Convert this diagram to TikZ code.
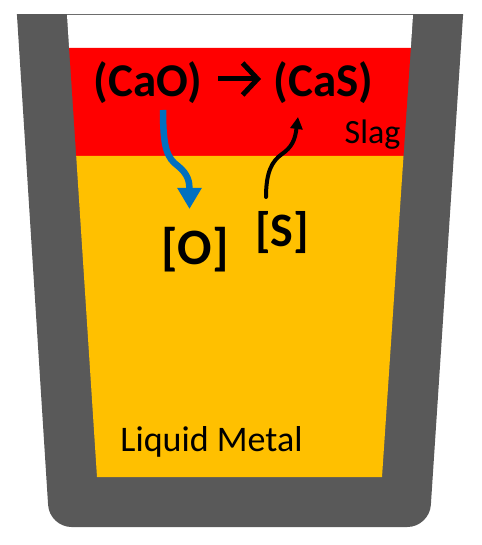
\documentclass[tikz,border=0pt]{standalone}
\usepackage{fontspec}
\setmainfont{Carlito}
\usetikzlibrary{arrows.meta}
\definecolor{wallgray}{HTML}{595959}
\definecolor{slagred}{HTML}{FF0000}
\definecolor{metalgold}{HTML}{FFC000}
\definecolor{arrowblue}{HTML}{0070C0}
\begin{document}
\begin{tikzpicture}[x=1pt,y=-1pt,
  rxn/.style={inner sep=0pt, anchor=base, font=\fontsize{47}{56}\selectfont\bfseries},
  conc/.style={inner sep=0pt, anchor=base, font=\fontsize{50}{60}\selectfont\bfseries},
  lbl/.style={inner sep=0pt, anchor=base, font=\fontsize{34}{40}\selectfont},
  react/.style={line width=5pt, -{Straight Barb[length=15pt, width=32pt]}},
  bluearr/.style={arrowblue, line width=6.5pt, -{Triangle[length=21pt, width=23pt]}},
  blackarr/.style={black, line width=4pt, line cap=round, -{Triangle[length=12pt, width=12pt]}}]
\useasboundingbox (0,0) rectangle (481,545);
% vessel wall
\begin{scope}
  \clip (0,15) rectangle (481,545);
  \fill[wallgray, rounded corners=22pt] (14.1,-30) -- (49.5,527) -- (429.4,527) -- (466,-30) -- cycle;
\end{scope}
% empty space above the slag
\fill[white] (67,15) -- (413,15) -- (410.8,48) -- (69.1,48) -- cycle;
% slag layer
\fill[slagred] (69.1,48) -- (410.8,48) -- (403.5,156) -- (76.2,156) -- cycle;
% liquid metal
\fill[metalgold] (76.2,156) -- (403.5,156) -- (382,477) -- (97,477) -- cycle;
% texts
\node[rxn] (cao) at (148,97) {(CaO)};
\node[rxn] (cas) at (323.5,97) {(CaS)};
\node[lbl] (slag) at (372.5,144) {Slag};
\node[lbl, font=\fontsize{36}{42}\selectfont] (metal) at (211.5,451) {Liquid Metal};
\node[conc, font=\fontsize{51}{60}\selectfont\bfseries] (o) at (195,264) {[O]};
\node[conc, font=\fontsize{48}{58}\selectfont\bfseries] (s) at (282,246) {[S]};
% reaction arrow
\coordinate (r1) at (218,79);
\coordinate (r2) at (261,79);
\draw[react] (r1) -- (r2);
% oxygen transfer arrow
\coordinate (o1) at (163,110);
\coordinate (o2) at (189.5,209);
\draw[bluearr] (o1) .. controls (163,148) and (167,158) .. (178,166) .. controls (188,174) and (189.5,182) .. (o2);
% sulphur transfer arrow
\coordinate (s1) at (266,197);
\coordinate (s2) at (298,117);
\draw[blackarr] (s1) .. controls (266,172) and (272,161) .. (282,154) .. controls (292,147) and (295,140) .. (s2);
\end{tikzpicture}
\end{document}
